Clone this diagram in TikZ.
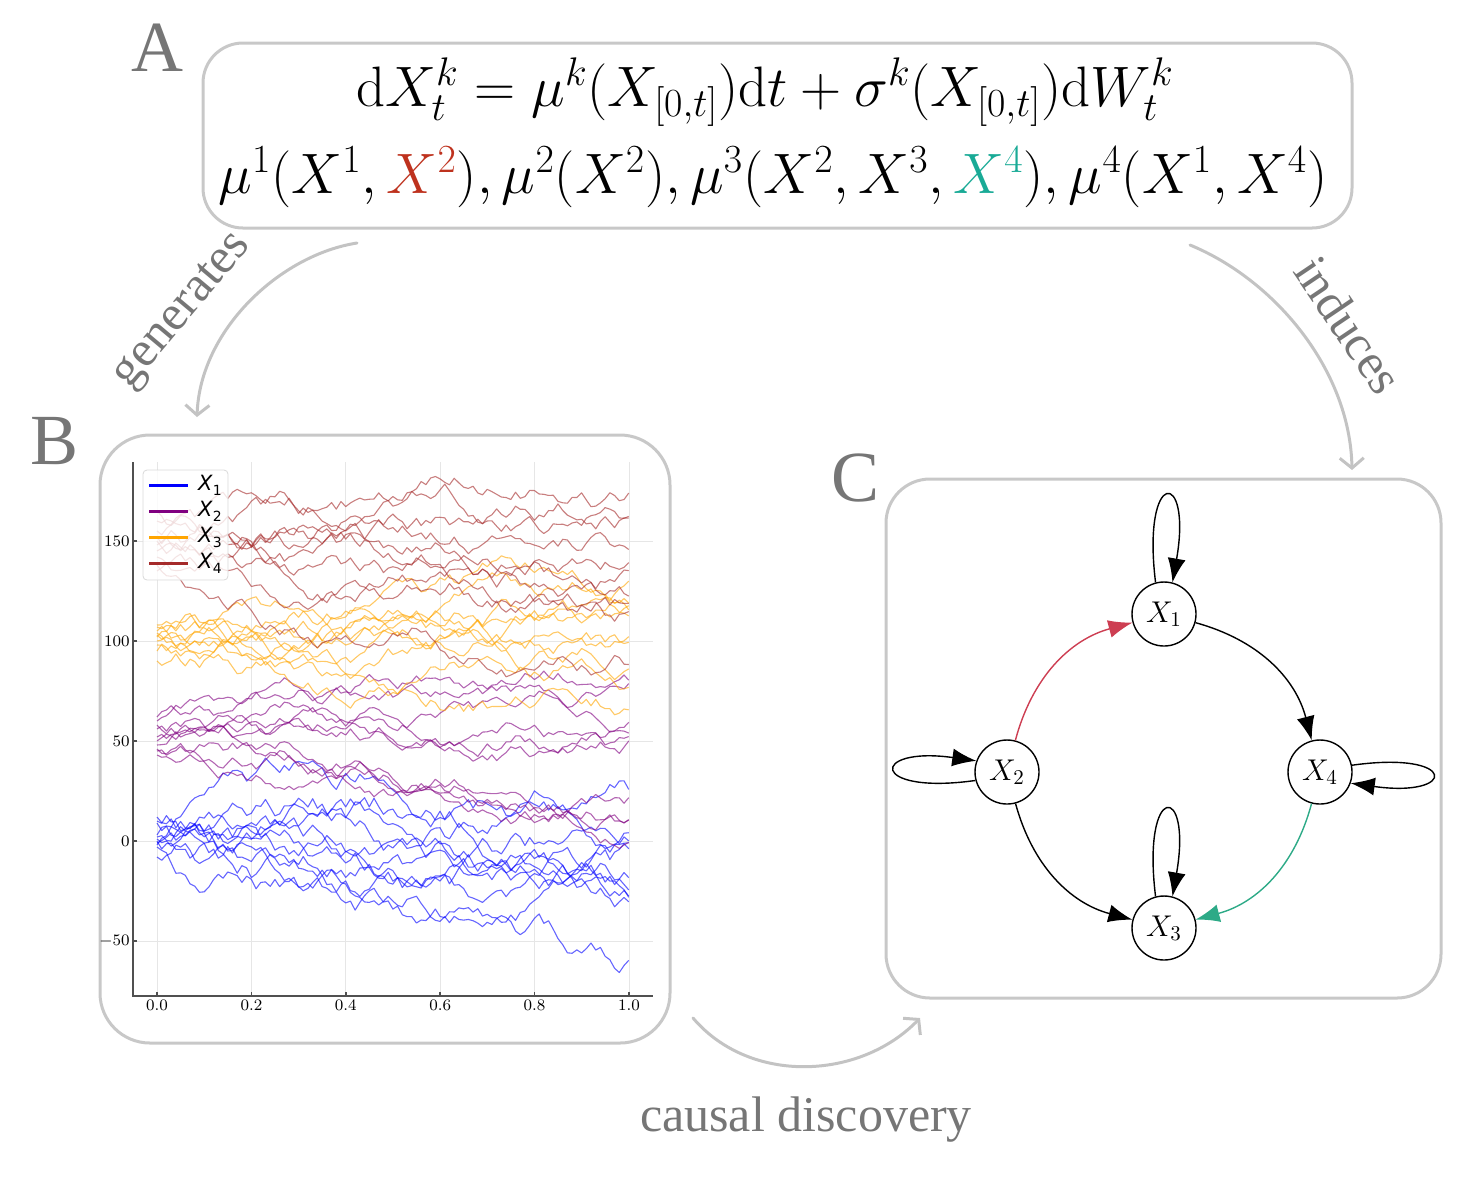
\documentclass[tikz,border=0pt]{standalone}
\usepackage{fix-cm}
\usepackage{fontspec}
\newfontfamily\timesf{Liberation Serif}
\newfontfamily\dejavu{DejaVu Sans}
\usetikzlibrary{arrows.meta}
\definecolor{boxgray}{RGB}{200,200,200}
\definecolor{labgray}{RGB}{118,118,118}
\definecolor{arrgray}{RGB}{195,195,195}
\definecolor{xred}{RGB}{190,50,30}
\definecolor{xteal}{RGB}{25,170,150}
\definecolor{ered}{RGB}{205,62,82}
\definecolor{egreen}{RGB}{45,170,135}
\definecolor{cblue}{RGB}{0,0,255}
\definecolor{cpurple}{RGB}{128,0,128}
\definecolor{corange}{RGB}{255,165,0}
\definecolor{cbrown}{RGB}{165,42,42}
\definecolor{axgray}{RGB}{80,80,80}
\definecolor{gridgray}{RGB}{230,230,230}
\newcommand{\legX}[1]{{\dejavu\fontsize{10.5}{12}\selectfont\textit{X}\raisebox{-2.5pt}{\fontsize{7}{8}\selectfont #1}}}
\begin{document}
\begin{tikzpicture}[x=0.5pt,y=-0.5pt,
  panel/.style={draw=boxgray, line width=1.5pt},
  panellabel/.style={text=labgray, font=\timesf\fontsize{36}{40}\selectfont, inner sep=0pt},
  flowlabel/.style={text=labgray, font=\timesf\fontsize{25}{30}\selectfont, inner sep=0pt},
  flow/.style={draw=arrgray, line width=1.5pt, line cap=round, -{Straight Barb[length=5pt,width=12pt]}},
  eqline/.style={anchor=base, inner sep=0pt, font=\fontsize{28.5}{34}\selectfont},
  gnode/.style={circle, draw=black, line width=0.7pt, minimum size=32pt, inner sep=0pt, fill=white, font=\fontsize{15}{17}\selectfont},
  gedge/.style={line width=0.7pt, -{Latex[length=12pt,width=9pt]}},
  axisline/.style={draw=axgray, line width=0.8pt},
  gridline/.style={draw=gridgray, line width=0.4pt},
  ticklab/.style={inner sep=0pt, font=\fontsize{8}{9}\selectfont},
  walk/.style={line width=0.55pt, draw opacity=0.6, line join=round},
  legline/.style={line width=1.5pt}
]
\useasboundingbox (0,0) rectangle (1476,1180);

% ---------- Panel A ----------
\draw[panel, rounded corners=20pt] (203,43) rectangle (1352,228);
\node[panellabel] (labA) at (157,48) {A};
\node[eqline] (eq1) at (765,106) {$\mathrm{d}X^k_t=\mu^k(X_{[0,t]})\mathrm{d}t+\sigma^k(X_{[0,t]})\mathrm{d}W^k_t$};
\node[eqline] (eq2) at (773,193) {$\mu^1(X^1,\textcolor{xred}{X^2}),\mu^2(X^2),\mu^3(X^2,X^3,\textcolor{xteal}{X^4}),\mu^4(X^1,X^4)$};

% ---------- Panel B ----------
\draw[panel, rounded corners=25pt] (100,435) rectangle (670,1043);
\node[panellabel] (labB) at (55,441) {B};

% grid
\foreach \gx in {157,251.4,345.8,440.2,534.6,629}
  \draw[gridline] (\gx,462) -- (\gx,996);
\foreach \gy in {541,641,741,841,941}
  \draw[gridline] (133,\gy) -- (653,\gy);

% walks
\pgfmathsetseed{7}
\begin{scope}
\clip (133,462) rectangle (653,996);
\begin{scope}[xshift=78.5pt, yshift=-420.5pt, x=236pt, y=1pt]
  \foreach \s/\d in {2/-0.3,10/-0.15,-1/-0.5,0/-0.35,12/-0.2,-8/-0.4,3/-0.1,-3/-0.7,1/-0.25,9/-0.45,-2/-0.05}{
    \draw[walk, cblue] (0,\s) \foreach \i in {1,...,100}{ -- ++(0.01,{4.5*rand+\d}) };
  }
  \foreach \s/\d in {60/0.1,56/-0.05,50/-0.1,45/0.1,43/0,52/0.2,58/-0.2,48/0.1,62/0,46/-0.1}{
    \draw[walk, cpurple] (0,\s) \foreach \i in {1,...,100}{ -- ++(0.01,{3.1*rand+\d}) };
  }
  \foreach \s/\d in {105/0.2,108/-0.25,102/0.05,98/-0.1,90/0,104/0.3,100/-0.2,107/0,95/0.1,103/-0.3}{
    \draw[walk, corange] (0,\s) \foreach \i in {1,...,100}{ -- ++(0.01,{3.6*rand+\d}) };
  }
  \foreach \s/\d in {150/-0.05,160/0,145/-0.2,135/-0.05,155/-0.25,142/0.05,165/-0.1,148/-0.3,138/-0.15,152/0}{
    \draw[walk, cbrown] (0,\s) \foreach \i in {1,...,100}{ -- ++(0.01,{3.8*rand+\d}) };
  }
\end{scope}
\end{scope}

% axes
\draw[axisline] (133,462) -- (133,996) -- (653,996);
\foreach \gx/\t in {157/0.0,251.4/0.2,345.8/0.4,440.2/0.6,534.6/0.8,629/1.0}{
  \draw[axisline] (\gx,996) -- (\gx,992);
  \node[ticklab, anchor=north] at (\gx,1000) {$\t$};
}
\foreach \gy/\t in {541/150,641/100,741/50,841/0,941/-50}{
  \draw[axisline] (133,\gy) -- (137,\gy);
  \node[ticklab, anchor=east] at (130,\gy) {$\t$};
}

% legend
\draw[draw=gray!30, fill=white, fill opacity=0.8, rounded corners=2pt, line width=0.4pt] (143,470) rectangle (228,580);
\draw[legline, cblue]   (149,485) -- (188,485);
\draw[legline, cpurple] (149,511) -- (188,511);
\draw[legline, corange] (149,537) -- (188,537);
\draw[legline, cbrown]  (149,563) -- (188,563);
\node[inner sep=0pt] (lg1) at (210,485) {\legX{1}};
\node[inner sep=0pt] (lg2) at (210,511) {\legX{2}};
\node[inner sep=0pt] (lg3) at (210,537) {\legX{3}};
\node[inner sep=0pt] (lg4) at (210,563) {\legX{4}};

% ---------- Panel C ----------
\draw[panel, rounded corners=22pt] (886,479) rectangle (1441,998);
\node[panellabel] (labC) at (855,478) {C};

\node[gnode] (X1) at (1164,614) {$X_1$};
\node[gnode] (X2) at (1007,772) {$X_2$};
\node[gnode] (X4) at (1320,772) {$X_4$};
\node[gnode] (X3) at (1164,928) {$X_3$};

\draw[gedge, draw=ered, -{Latex[length=12pt,width=9pt,fill=ered]}] (X2) to[bend left=30] (X1);
\draw[gedge] (X1) to[bend left=30] (X4);
\draw[gedge] (X2) to[bend right=30] (X3);
\draw[gedge, draw=egreen, -{Latex[length=12pt,width=9pt,fill=egreen]}] (X4) to[bend left=30] (X3);

\draw[gedge] (X1.105) .. controls +(97:58pt) and +(80:58pt) .. (X1.75);
\draw[gedge] (X3.105) .. controls +(97:58pt) and +(80:58pt) .. (X3.75);
\draw[gedge] (X2.195) .. controls +(188:54pt) and +(172:54pt) .. (X2.160);
\draw[gedge] (X4.12) .. controls +(8:54pt) and +(-8:54pt) .. (X4.-20);

% ---------- flow arrows ----------
\coordinate (gS) at (357,243);
\coordinate (gE) at (197,417);
\draw[flow] (gS) .. controls (280,255) and (200,330) .. (gE);
\node[flowlabel, rotate=50] (gen) at (184,312) {generates};

\coordinate (iS) at (1190,245);
\coordinate (iE) at (1352,470);
\draw[flow] (iS) .. controls (1275,280) and (1350,370) .. (iE);
\node[flowlabel, rotate=-56] (ind) at (1349,325) {induces};

\coordinate (cS) at (693,1018);
\coordinate (cE) at (920,1018);
\draw[flow] (cS) .. controls (750,1085) and (860,1080) .. (cE);
\node[flowlabel] (cd) at (806,1120) {causal discovery};
\end{tikzpicture}
\end{document}
